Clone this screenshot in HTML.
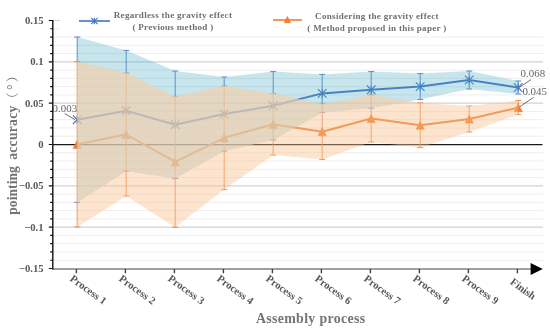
<!DOCTYPE html>
<html lang="en"><head><meta charset="utf-8"><title>Pointing accuracy vs assembly process</title>
<style>html,body{margin:0;padding:0;background:#fff;}body{width:550px;height:333px;overflow:hidden;}svg{display:block;}text{font-family:"Liberation Serif", "Noto Serif CJK SC", serif;}</style>
</head><body>
<svg width="550" height="333" viewBox="0 0 550 333">
<rect width="550" height="333" fill="#fff"/>
<g stroke="#eeeeee" stroke-width="1">
<line x1="52.8" y1="260.24" x2="543" y2="260.24"/>
<line x1="52.8" y1="251.97" x2="543" y2="251.97"/>
<line x1="52.8" y1="243.7" x2="543" y2="243.7"/>
<line x1="52.8" y1="235.44" x2="543" y2="235.44"/>
<line x1="52.8" y1="218.9" x2="543" y2="218.9"/>
<line x1="52.8" y1="210.64" x2="543" y2="210.64"/>
<line x1="52.8" y1="202.37" x2="543" y2="202.37"/>
<line x1="52.8" y1="194.1" x2="543" y2="194.1"/>
<line x1="52.8" y1="177.57" x2="543" y2="177.57"/>
<line x1="52.8" y1="169.3" x2="543" y2="169.3"/>
<line x1="52.8" y1="161.03" x2="543" y2="161.03"/>
<line x1="52.8" y1="152.77" x2="543" y2="152.77"/>
<line x1="52.8" y1="136.23" x2="543" y2="136.23"/>
<line x1="52.8" y1="127.97" x2="543" y2="127.97"/>
<line x1="52.8" y1="119.7" x2="543" y2="119.7"/>
<line x1="52.8" y1="111.43" x2="543" y2="111.43"/>
<line x1="52.8" y1="94.9" x2="543" y2="94.9"/>
<line x1="52.8" y1="86.63" x2="543" y2="86.63"/>
<line x1="52.8" y1="78.36" x2="543" y2="78.36"/>
<line x1="52.8" y1="70.1" x2="543" y2="70.1"/>
<line x1="52.8" y1="53.56" x2="543" y2="53.56"/>
<line x1="52.8" y1="45.3" x2="543" y2="45.3"/>
<line x1="52.8" y1="37.03" x2="543" y2="37.03"/>
<line x1="52.8" y1="28.76" x2="543" y2="28.76"/>
</g>
<g stroke="#d2d2d2" stroke-width="1.1">
<line x1="52.8" y1="227.17" x2="543" y2="227.17"/>
<line x1="52.8" y1="185.84" x2="543" y2="185.84"/>
<line x1="52.8" y1="103.16" x2="543" y2="103.16"/>
<line x1="52.8" y1="61.83" x2="543" y2="61.83"/>
<line x1="52.8" y1="20.5" x2="543" y2="20.5"/>
</g>
<line x1="52.8" y1="144.6" x2="542.5" y2="144.6" stroke="#1a1a1a" stroke-width="1.1"/>
<g stroke="#4472c4" fill="none">
<path d="M77.2 37V61.6M74.2 37h6M74.2 202.4h6M126.2 50.4V73M123.2 50.4h6M123.2 171h6M175.2 71V96.4M172.2 71h6M172.2 178.4h6M224.2 77V86M221.2 77h6M221.2 151h6M273.2 71.6V93.6M270.2 71.6h6M270.2 140h6M322.2 74.4V104M319.2 74.4h6M319.2 112.4h6M371.2 71.6V95M368.2 71.6h6M368.2 108h6M420.2 73.6V99.6M417.2 73.6h6M417.2 99.6h6M469.2 71V89M466.2 71h6M466.2 89h6M518.2 81V94M515.2 81h6M515.2 94h6" stroke-width="0.85"/>
<polyline points="77.2,119.7 126.2,110.7 175.2,124.7 224.2,114 273.2,105.8 322.2,93.4 371.2,89.8 420.2,86.6 469.2,80 518.2,87.5" stroke-width="2" stroke-linejoin="round"/>
<path d="M72.9 115.4l8.6 8.6M72.9 124l8.6 -8.6M77.2 115.4v8.6" stroke-width="1.1"/>
<path d="M121.9 106.4l8.6 8.6M121.9 115l8.6 -8.6M126.2 106.4v8.6" stroke-width="1.1"/>
<path d="M170.9 120.4l8.6 8.6M170.9 129l8.6 -8.6M175.2 120.4v8.6" stroke-width="1.1"/>
<path d="M219.9 109.7l8.6 8.6M219.9 118.3l8.6 -8.6M224.2 109.7v8.6" stroke-width="1.1"/>
<path d="M268.9 101.5l8.6 8.6M268.9 110.1l8.6 -8.6M273.2 101.5v8.6" stroke-width="1.1"/>
<path d="M317.9 89.1l8.6 8.6M317.9 97.7l8.6 -8.6M322.2 89.1v8.6" stroke-width="1.1"/>
<path d="M366.9 85.5l8.6 8.6M366.9 94.1l8.6 -8.6M371.2 85.5v8.6" stroke-width="1.1"/>
<path d="M415.9 82.3l8.6 8.6M415.9 90.9l8.6 -8.6M420.2 82.3v8.6" stroke-width="1.1"/>
<path d="M464.9 75.7l8.6 8.6M464.9 84.3l8.6 -8.6M469.2 75.7v8.6" stroke-width="1.1"/>
<path d="M513.9 83.2l8.6 8.6M513.9 91.8l8.6 -8.6M518.2 83.2v8.6" stroke-width="1.1"/>
</g>
<g stroke="#ed7d31" fill="none">
<path d="M77.2 61.6V227M74.2 61.6h6M74.2 227h6M126.2 73V196M123.2 73h6M123.2 196h6M175.2 96.4V227.2M172.2 96.4h6M172.2 227.2h6M224.2 86V189.6M221.2 86h6M221.2 189.6h6M273.2 93.6V155M270.2 93.6h6M270.2 155h6M322.2 104V159.4M319.2 104h6M319.2 159.4h6M371.2 95V142M368.2 95h6M368.2 142h6M420.2 102.8V147.6M417.2 102.8h6M417.2 147.6h6M469.2 106V132M466.2 106h6M466.2 132h6M518.2 100.6V114.6M515.2 100.6h6M515.2 114.6h6" stroke-width="0.85"/>
<polyline points="77.2,144.3 126.2,134.5 175.2,161.8 224.2,137.8 273.2,124.3 322.2,131.7 371.2,118.5 420.2,125.2 469.2,119 518.2,107.6" stroke-width="2" stroke-linejoin="round"/>
<path d="M77.2 140.2L81.3 148.4L73.1 148.4Z" fill="#ed7d31" stroke-width="0.6"/>
<path d="M126.2 130.4L130.3 138.6L122.1 138.6Z" fill="#ed7d31" stroke-width="0.6"/>
<path d="M175.2 157.7L179.3 165.9L171.1 165.9Z" fill="#ed7d31" stroke-width="0.6"/>
<path d="M224.2 133.7L228.3 141.9L220.1 141.9Z" fill="#ed7d31" stroke-width="0.6"/>
<path d="M273.2 120.2L277.3 128.4L269.1 128.4Z" fill="#ed7d31" stroke-width="0.6"/>
<path d="M322.2 127.6L326.3 135.8L318.1 135.8Z" fill="#ed7d31" stroke-width="0.6"/>
<path d="M371.2 114.4L375.3 122.6L367.1 122.6Z" fill="#ed7d31" stroke-width="0.6"/>
<path d="M420.2 121.1L424.3 129.3L416.1 129.3Z" fill="#ed7d31" stroke-width="0.6"/>
<path d="M469.2 114.9L473.3 123.1L465.1 123.1Z" fill="#ed7d31" stroke-width="0.6"/>
<path d="M518.2 103.5L522.3 111.7L514.1 111.7Z" fill="#ed7d31" stroke-width="0.6"/>
</g>
<polygon points="77.2,37 126.2,50.4 175.2,71 224.2,77 273.2,71.6 322.2,74.4 371.2,71.6 420.2,73.6 469.2,71 518.2,81 518.2,94 469.2,89 420.2,99.6 371.2,108 322.2,112.4 273.2,140 224.2,151 175.2,178.4 126.2,171 77.2,202.4" fill="#4bacc6" fill-opacity="0.31"/>
<polygon points="77.2,61.6 126.2,73 175.2,96.4 224.2,86 273.2,93.6 322.2,104 371.2,95 420.2,102.8 469.2,106 518.2,100.6 518.2,114.6 469.2,132 420.2,147.6 371.2,142 322.2,159.4 273.2,155 224.2,189.6 175.2,227.2 126.2,196 77.2,227" fill="#fac090" fill-opacity="0.43"/>
<clipPath id="cb"><polygon points="77.2,37 126.2,50.4 175.2,71 224.2,77 273.2,71.6 322.2,74.4 371.2,71.6 420.2,73.6 469.2,71 518.2,81 518.2,94 469.2,89 420.2,99.6 371.2,108 322.2,112.4 273.2,140 224.2,151 175.2,178.4 126.2,171 77.2,202.4"/></clipPath>
<polygon points="77.2,61.6 126.2,73 175.2,96.4 224.2,86 273.2,93.6 322.2,104 371.2,95 420.2,102.8 469.2,106 518.2,100.6 518.2,114.6 469.2,132 420.2,147.6 371.2,142 322.2,159.4 273.2,155 224.2,189.6 175.2,227.2 126.2,196 77.2,227" fill="#ecd6bb" fill-opacity="0.47" clip-path="url(#cb)"/>
<g stroke="#111" stroke-width="1.4" fill="none">
<line x1="52.8" y1="19.9" x2="52.8" y2="269.6"/>
<path d="M52.8 268.5h-4M52.8 260.24h-2.6M52.8 251.97h-2.6M52.8 243.7h-2.6M52.8 235.44h-2.6M52.8 227.17h-4M52.8 218.9h-2.6M52.8 210.64h-2.6M52.8 202.37h-2.6M52.8 194.1h-2.6M52.8 185.84h-4M52.8 177.57h-2.6M52.8 169.3h-2.6M52.8 161.03h-2.6M52.8 152.77h-2.6M52.8 144.5h-4M52.8 136.23h-2.6M52.8 127.97h-2.6M52.8 119.7h-2.6M52.8 111.43h-2.6M52.8 103.16h-4M52.8 94.9h-2.6M52.8 86.63h-2.6M52.8 78.36h-2.6M52.8 70.1h-2.6M52.8 61.83h-4M52.8 53.56h-2.6M52.8 45.3h-2.6M52.8 37.03h-2.6M52.8 28.76h-2.6M52.8 20.5h-4" stroke-width="1.2"/>
</g>
<g stroke="#404040" stroke-width="1.2" fill="none">
<line x1="52.1" y1="269" x2="532" y2="269"/>
<path d="M76.4 269v4.2M125.4 269v4.2M174.4 269v4.2M223.4 269v4.2M272.4 269v4.2M321.4 269v4.2M370.4 269v4.2M419.4 269v4.2M468.4 269v4.2M517.4 269v4.2" stroke-width="1.4"/>
</g>
<polygon points="530.6,263 542.8,269 530.6,275" fill="#000"/>
<g font-size="10.7" font-weight="bold" fill="#595959" text-anchor="end">
<text x="43.6" y="272">−0.15</text>
<text x="43.6" y="230.67">−0.1</text>
<text x="43.6" y="189.34">−0.05</text>
<text x="43.6" y="148">0</text>
<text x="43.6" y="106.66">0.05</text>
<text x="43.6" y="65.33">0.1</text>
<text x="43.6" y="24">0.15</text>
</g>
<g font-size="10.7" font-weight="bold" fill="#595959">
<text transform="translate(69.2,280.1) rotate(36)">Process 1</text>
<text transform="translate(118.2,280.1) rotate(36)">Process 2</text>
<text transform="translate(167.2,280.1) rotate(36)">Process 3</text>
<text transform="translate(216.2,280.1) rotate(36)">Process 4</text>
<text transform="translate(265.2,280.1) rotate(36)">Process 5</text>
<text transform="translate(314.2,280.1) rotate(36)">Process 6</text>
<text transform="translate(363.2,280.1) rotate(36)">Process 7</text>
<text transform="translate(412.2,280.1) rotate(36)">Process 8</text>
<text transform="translate(461.2,280.1) rotate(36)">Process 9</text>
<text transform="translate(509.6,283.3) rotate(36)">Finish</text>
</g>
<text x="310.7" y="323.2" font-size="13.9" letter-spacing="0.33" font-weight="bold" fill="#757575" text-anchor="middle">Assembly process</text>
<text transform="translate(17.4,214.8) rotate(-90)" font-size="13.6" letter-spacing="0.3" word-spacing="2.5" font-weight="bold" fill="#757575"><tspan letter-spacing="0.05">pointing</tspan> accuracy<tspan font-weight="normal" font-size="12.6"><tspan dx="0.4" dy="-0.9">（</tspan><tspan dx="2" dy="0.5" font-size="13.6">°</tspan><tspan dx="2.1" dy="-0.5">）</tspan></tspan></text>
<rect x="60" y="0" width="490" height="33.5" fill="#fff"/>
<g font-size="9.05" letter-spacing="0.3" font-weight="bold" fill="#707070" text-anchor="middle">
<text x="173" y="17.6">Regardless the gravity effect</text>
<text x="173" y="30">( Previous method )</text>
<text x="377" y="19.4">Considering the gravity effect</text>
<text x="377" y="30.8">( Method proposed in this paper )</text>
</g>
<g stroke="#4472c4" fill="none"><line x1="79" y1="21" x2="110" y2="21" stroke-width="1.6"/><path d="M91.2 17.8l6.4 6.4M91.2 24.2l6.4 -6.4M94.4 17.8v6.4" stroke-width="1.1"/></g>
<g stroke="#ed7d31" fill="none"><line x1="273" y1="20" x2="302" y2="20" stroke-width="1.6"/><path d="M287.4 16.4L290.6 22.8L284.2 22.8Z" fill="#ed7d31" stroke-width="0.6"/></g>
<g font-size="10.9" fill="#666">
<text x="52.6" y="112">0.003</text>
<text x="520.6" y="77">0.068</text>
<text x="522.4" y="95">0.045</text>
</g>
<g stroke="#333" stroke-width="0.7" fill="none">
<path d="M64.6 113.6L75 119.6M531 79.6L519 87.6M533.6 97.4L520 106.6"/>
</g>
</svg>
</body></html>
